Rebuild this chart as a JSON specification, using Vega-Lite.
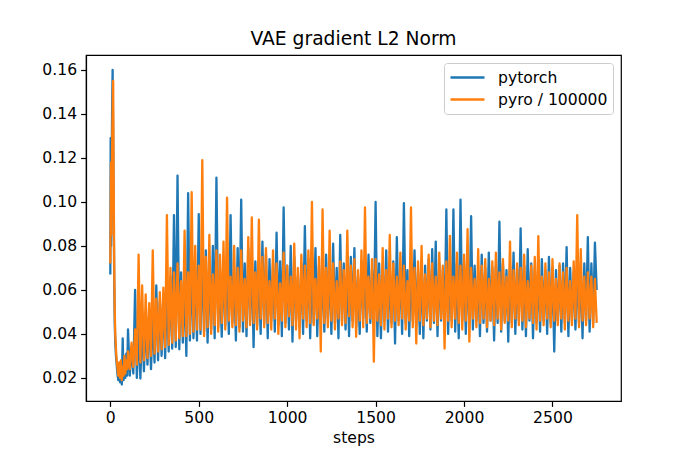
{
  "$schema": "https://vega.github.io/schema/vega-lite/v6.json",
  "description": "VAE gradient L2 Norm, pytorch vs pyro / 100000",
  "title": {"text": "VAE gradient L2 Norm", "fontSize": 18.7, "fontWeight": "normal", "color": "black", "anchor": "middle", "baseline": "alphabetic", "offset": 8, "dy": 17},
  "autosize": {"type": "none"},
  "padding": {"left": 86, "top": 55, "right": 69, "bottom": 57},
  "width": 535,
  "height": 346,
  "data": {
    "values": [
      {"step": 0, "pytorch": 0.067, "pyro": 0.072},
      {"step": 2, "pytorch": 0.129, "pyro": 0.095},
      {"step": 4, "pytorch": 0.080, "pyro": 0.118},
      {"step": 6, "pytorch": 0.100, "pyro": 0.085},
      {"step": 8, "pytorch": 0.122, "pyro": 0.110},
      {"step": 10, "pytorch": 0.140, "pyro": 0.125},
      {"step": 13, "pytorch": 0.160, "pyro": 0.140},
      {"step": 16, "pytorch": 0.130, "pyro": 0.155},
      {"step": 19, "pytorch": 0.095, "pyro": 0.110},
      {"step": 22, "pytorch": 0.065, "pyro": 0.072},
      {"step": 25, "pytorch": 0.045, "pyro": 0.050},
      {"step": 28, "pytorch": 0.036, "pyro": 0.040},
      {"step": 32, "pytorch": 0.030, "pyro": 0.033},
      {"step": 36, "pytorch": 0.026, "pyro": 0.028},
      {"step": 40, "pytorch": 0.022, "pyro": 0.025},
      {"step": 45, "pytorch": 0.019, "pyro": 0.021},
      {"step": 50, "pytorch": 0.025, "pyro": 0.027},
      {"step": 55, "pytorch": 0.018, "pyro": 0.020},
      {"step": 60, "pytorch": 0.024, "pyro": 0.028},
      {"step": 65, "pytorch": 0.017, "pyro": 0.019},
      {"step": 70, "pytorch": 0.038, "pyro": 0.025},
      {"step": 75, "pytorch": 0.019, "pyro": 0.021},
      {"step": 80, "pytorch": 0.026, "pyro": 0.030},
      {"step": 85, "pytorch": 0.020, "pyro": 0.022},
      {"step": 90, "pytorch": 0.031, "pyro": 0.028},
      {"step": 95, "pytorch": 0.021, "pyro": 0.024},
      {"step": 100, "pytorch": 0.042, "pyro": 0.032},
      {"step": 110, "pytorch": 0.021, "pyro": 0.024},
      {"step": 120, "pytorch": 0.034, "pyro": 0.036},
      {"step": 130, "pytorch": 0.022, "pyro": 0.025},
      {"step": 140, "pytorch": 0.060, "pyro": 0.042},
      {"step": 150, "pytorch": 0.020, "pyro": 0.026},
      {"step": 160, "pytorch": 0.044, "pyro": 0.076},
      {"step": 170, "pytorch": 0.0197, "pyro": 0.027},
      {"step": 180, "pytorch": 0.046, "pyro": 0.062},
      {"step": 190, "pytorch": 0.023, "pyro": 0.028},
      {"step": 200, "pytorch": 0.047, "pyro": 0.058},
      {"step": 210, "pytorch": 0.026, "pyro": 0.029},
      {"step": 220, "pytorch": 0.050, "pyro": 0.054},
      {"step": 230, "pytorch": 0.024, "pyro": 0.030},
      {"step": 240, "pytorch": 0.048, "pyro": 0.078},
      {"step": 250, "pytorch": 0.027, "pyro": 0.031},
      {"step": 260, "pytorch": 0.062, "pyro": 0.056},
      {"step": 270, "pytorch": 0.028, "pyro": 0.032},
      {"step": 280, "pytorch": 0.055, "pyro": 0.059},
      {"step": 290, "pytorch": 0.030, "pyro": 0.033},
      {"step": 300, "pytorch": 0.058, "pyro": 0.061},
      {"step": 310, "pytorch": 0.029, "pyro": 0.034},
      {"step": 320, "pytorch": 0.062, "pyro": 0.094},
      {"step": 330, "pytorch": 0.032, "pyro": 0.035},
      {"step": 340, "pytorch": 0.066, "pyro": 0.070},
      {"step": 350, "pytorch": 0.0333, "pyro": 0.036},
      {"step": 360, "pytorch": 0.094, "pyro": 0.068},
      {"step": 370, "pytorch": 0.034, "pyro": 0.037},
      {"step": 380, "pytorch": 0.112, "pyro": 0.072},
      {"step": 390, "pytorch": 0.033, "pyro": 0.038},
      {"step": 400, "pytorch": 0.068, "pyro": 0.064},
      {"step": 410, "pytorch": 0.036, "pyro": 0.039},
      {"step": 420, "pytorch": 0.064, "pyro": 0.087},
      {"step": 430, "pytorch": 0.030, "pyro": 0.039},
      {"step": 440, "pytorch": 0.104, "pyro": 0.068},
      {"step": 450, "pytorch": 0.037, "pyro": 0.040},
      {"step": 460, "pytorch": 0.072, "pyro": 0.1044},
      {"step": 470, "pytorch": 0.038, "pyro": 0.041},
      {"step": 480, "pytorch": 0.070, "pyro": 0.080},
      {"step": 490, "pytorch": 0.037, "pyro": 0.042},
      {"step": 500, "pytorch": 0.0945, "pyro": 0.071},
      {"step": 510, "pytorch": 0.040, "pyro": 0.042},
      {"step": 520, "pytorch": 0.075, "pyro": 0.119},
      {"step": 530, "pytorch": 0.041, "pyro": 0.039},
      {"step": 540, "pytorch": 0.078, "pyro": 0.075},
      {"step": 550, "pytorch": 0.036, "pyro": 0.043},
      {"step": 560, "pytorch": 0.072, "pyro": 0.085},
      {"step": 570, "pytorch": 0.042, "pyro": 0.040},
      {"step": 580, "pytorch": 0.080, "pyro": 0.067},
      {"step": 590, "pytorch": 0.038, "pyro": 0.044},
      {"step": 600, "pytorch": 0.111, "pyro": 0.078},
      {"step": 610, "pytorch": 0.043, "pyro": 0.041},
      {"step": 620, "pytorch": 0.066, "pyro": 0.076},
      {"step": 630, "pytorch": 0.0387, "pyro": 0.045},
      {"step": 640, "pytorch": 0.074, "pyro": 0.082},
      {"step": 650, "pytorch": 0.044, "pyro": 0.042},
      {"step": 660, "pytorch": 0.076, "pyro": 0.102},
      {"step": 670, "pytorch": 0.040, "pyro": 0.046},
      {"step": 680, "pytorch": 0.094, "pyro": 0.066},
      {"step": 690, "pytorch": 0.045, "pyro": 0.043},
      {"step": 700, "pytorch": 0.068, "pyro": 0.080},
      {"step": 710, "pytorch": 0.037, "pyro": 0.044},
      {"step": 720, "pytorch": 0.079, "pyro": 0.070},
      {"step": 730, "pytorch": 0.043, "pyro": 0.041},
      {"step": 740, "pytorch": 0.101, "pyro": 0.078},
      {"step": 750, "pytorch": 0.041, "pyro": 0.046},
      {"step": 760, "pytorch": 0.072, "pyro": 0.065},
      {"step": 770, "pytorch": 0.039, "pyro": 0.043},
      {"step": 780, "pytorch": 0.079, "pyro": 0.084},
      {"step": 790, "pytorch": 0.046, "pyro": 0.044},
      {"step": 800, "pytorch": 0.075, "pyro": 0.093},
      {"step": 810, "pytorch": 0.034, "pyro": 0.045},
      {"step": 820, "pytorch": 0.073, "pyro": 0.068},
      {"step": 830, "pytorch": 0.044, "pyro": 0.042},
      {"step": 840, "pytorch": 0.070, "pyro": 0.092},
      {"step": 850, "pytorch": 0.040, "pyro": 0.047},
      {"step": 860, "pytorch": 0.082, "pyro": 0.075},
      {"step": 870, "pytorch": 0.045, "pyro": 0.043},
      {"step": 880, "pytorch": 0.076, "pyro": 0.079},
      {"step": 890, "pytorch": 0.038, "pyro": 0.045},
      {"step": 900, "pytorch": 0.074, "pyro": 0.064},
      {"step": 910, "pytorch": 0.046, "pyro": 0.042},
      {"step": 920, "pytorch": 0.072, "pyro": 0.078},
      {"step": 930, "pytorch": 0.041, "pyro": 0.047},
      {"step": 940, "pytorch": 0.086, "pyro": 0.072},
      {"step": 950, "pytorch": 0.044, "pyro": 0.040},
      {"step": 960, "pytorch": 0.073, "pyro": 0.063},
      {"step": 970, "pytorch": 0.039, "pyro": 0.046},
      {"step": 980, "pytorch": 0.0975, "pyro": 0.077},
      {"step": 990, "pytorch": 0.045, "pyro": 0.043},
      {"step": 1000, "pytorch": 0.071, "pyro": 0.071},
      {"step": 1010, "pytorch": 0.042, "pyro": 0.048},
      {"step": 1020, "pytorch": 0.080, "pyro": 0.066},
      {"step": 1030, "pytorch": 0.0365, "pyro": 0.044},
      {"step": 1040, "pytorch": 0.075, "pyro": 0.081},
      {"step": 1050, "pytorch": 0.046, "pyro": 0.042},
      {"step": 1060, "pytorch": 0.066, "pyro": 0.070},
      {"step": 1070, "pytorch": 0.043, "pyro": 0.038},
      {"step": 1080, "pytorch": 0.072, "pyro": 0.076},
      {"step": 1090, "pytorch": 0.040, "pyro": 0.047},
      {"step": 1100, "pytorch": 0.089, "pyro": 0.071},
      {"step": 1110, "pytorch": 0.046, "pyro": 0.043},
      {"step": 1120, "pytorch": 0.074, "pyro": 0.078},
      {"step": 1130, "pytorch": 0.038, "pyro": 0.045},
      {"step": 1140, "pytorch": 0.070, "pyro": 0.100},
      {"step": 1150, "pytorch": 0.045, "pyro": 0.044},
      {"step": 1160, "pytorch": 0.079, "pyro": 0.065},
      {"step": 1170, "pytorch": 0.039, "pyro": 0.047},
      {"step": 1180, "pytorch": 0.071, "pyro": 0.075},
      {"step": 1190, "pytorch": 0.046, "pyro": 0.032},
      {"step": 1200, "pytorch": 0.067, "pyro": 0.0966},
      {"step": 1210, "pytorch": 0.041, "pyro": 0.045},
      {"step": 1220, "pytorch": 0.076, "pyro": 0.070},
      {"step": 1230, "pytorch": 0.047, "pyro": 0.043},
      {"step": 1240, "pytorch": 0.069, "pyro": 0.087},
      {"step": 1250, "pytorch": 0.040, "pyro": 0.046},
      {"step": 1260, "pytorch": 0.081, "pyro": 0.072},
      {"step": 1270, "pytorch": 0.045, "pyro": 0.042},
      {"step": 1280, "pytorch": 0.070, "pyro": 0.064},
      {"step": 1290, "pytorch": 0.038, "pyro": 0.047},
      {"step": 1300, "pytorch": 0.085, "pyro": 0.073},
      {"step": 1310, "pytorch": 0.046, "pyro": 0.044},
      {"step": 1320, "pytorch": 0.072, "pyro": 0.069},
      {"step": 1330, "pytorch": 0.042, "pyro": 0.045},
      {"step": 1340, "pytorch": 0.069, "pyro": 0.087},
      {"step": 1350, "pytorch": 0.039, "pyro": 0.048},
      {"step": 1360, "pytorch": 0.075, "pyro": 0.071},
      {"step": 1370, "pytorch": 0.046, "pyro": 0.043},
      {"step": 1380, "pytorch": 0.079, "pyro": 0.074},
      {"step": 1390, "pytorch": 0.043, "pyro": 0.0387},
      {"step": 1400, "pytorch": 0.066, "pyro": 0.069},
      {"step": 1410, "pytorch": 0.040, "pyro": 0.046},
      {"step": 1420, "pytorch": 0.073, "pyro": 0.078},
      {"step": 1430, "pytorch": 0.047, "pyro": 0.043},
      {"step": 1440, "pytorch": 0.070, "pyro": 0.0975},
      {"step": 1450, "pytorch": 0.041, "pyro": 0.045},
      {"step": 1460, "pytorch": 0.076, "pyro": 0.066},
      {"step": 1470, "pytorch": 0.045, "pyro": 0.047},
      {"step": 1480, "pytorch": 0.069, "pyro": 0.074},
      {"step": 1490, "pytorch": 0.044, "pyro": 0.0274},
      {"step": 1500, "pytorch": 0.100, "pyro": 0.074},
      {"step": 1510, "pytorch": 0.039, "pyro": 0.046},
      {"step": 1520, "pytorch": 0.072, "pyro": 0.067},
      {"step": 1530, "pytorch": 0.038, "pyro": 0.044},
      {"step": 1540, "pytorch": 0.070, "pyro": 0.079},
      {"step": 1550, "pytorch": 0.046, "pyro": 0.042},
      {"step": 1560, "pytorch": 0.078, "pyro": 0.069},
      {"step": 1570, "pytorch": 0.041, "pyro": 0.047},
      {"step": 1580, "pytorch": 0.068, "pyro": 0.085},
      {"step": 1590, "pytorch": 0.045, "pyro": 0.043},
      {"step": 1600, "pytorch": 0.073, "pyro": 0.072},
      {"step": 1610, "pytorch": 0.0356, "pyro": 0.046},
      {"step": 1620, "pytorch": 0.084, "pyro": 0.066},
      {"step": 1630, "pytorch": 0.046, "pyro": 0.044},
      {"step": 1640, "pytorch": 0.070, "pyro": 0.077},
      {"step": 1650, "pytorch": 0.040, "pyro": 0.047},
      {"step": 1660, "pytorch": 0.0995, "pyro": 0.071},
      {"step": 1670, "pytorch": 0.045, "pyro": 0.042},
      {"step": 1680, "pytorch": 0.069, "pyro": 0.064},
      {"step": 1690, "pytorch": 0.039, "pyro": 0.046},
      {"step": 1700, "pytorch": 0.072, "pyro": 0.0975},
      {"step": 1710, "pytorch": 0.046, "pyro": 0.043},
      {"step": 1720, "pytorch": 0.078, "pyro": 0.070},
      {"step": 1730, "pytorch": 0.044, "pyro": 0.0356},
      {"step": 1740, "pytorch": 0.068, "pyro": 0.073},
      {"step": 1750, "pytorch": 0.040, "pyro": 0.046},
      {"step": 1760, "pytorch": 0.073, "pyro": 0.080},
      {"step": 1770, "pytorch": 0.038, "pyro": 0.044},
      {"step": 1780, "pytorch": 0.071, "pyro": 0.067},
      {"step": 1790, "pytorch": 0.046, "pyro": 0.047},
      {"step": 1800, "pytorch": 0.074, "pyro": 0.076},
      {"step": 1810, "pytorch": 0.042, "pyro": 0.043},
      {"step": 1820, "pytorch": 0.0785, "pyro": 0.072},
      {"step": 1830, "pytorch": 0.045, "pyro": 0.046},
      {"step": 1840, "pytorch": 0.082, "pyro": 0.066},
      {"step": 1850, "pytorch": 0.039, "pyro": 0.044},
      {"step": 1860, "pytorch": 0.072, "pyro": 0.077},
      {"step": 1870, "pytorch": 0.046, "pyro": 0.047},
      {"step": 1880, "pytorch": 0.069, "pyro": 0.071},
      {"step": 1890, "pytorch": 0.043, "pyro": 0.0333},
      {"step": 1900, "pytorch": 0.0966, "pyro": 0.073},
      {"step": 1910, "pytorch": 0.040, "pyro": 0.046},
      {"step": 1920, "pytorch": 0.073, "pyro": 0.0846},
      {"step": 1930, "pytorch": 0.046, "pyro": 0.043},
      {"step": 1940, "pytorch": 0.0966, "pyro": 0.066},
      {"step": 1950, "pytorch": 0.041, "pyro": 0.047},
      {"step": 1960, "pytorch": 0.072, "pyro": 0.077},
      {"step": 1970, "pytorch": 0.038, "pyro": 0.045},
      {"step": 1980, "pytorch": 0.101, "pyro": 0.071},
      {"step": 1990, "pytorch": 0.046, "pyro": 0.042},
      {"step": 2000, "pytorch": 0.072, "pyro": 0.076},
      {"step": 2010, "pytorch": 0.040, "pyro": 0.046},
      {"step": 2020, "pytorch": 0.070, "pyro": 0.0876},
      {"step": 2030, "pytorch": 0.045, "pyro": 0.0365},
      {"step": 2040, "pytorch": 0.0935, "pyro": 0.070},
      {"step": 2050, "pytorch": 0.042, "pyro": 0.047},
      {"step": 2060, "pytorch": 0.071, "pyro": 0.065},
      {"step": 2070, "pytorch": 0.046, "pyro": 0.043},
      {"step": 2080, "pytorch": 0.068, "pyro": 0.0785},
      {"step": 2090, "pytorch": 0.039, "pyro": 0.045},
      {"step": 2100, "pytorch": 0.076, "pyro": 0.071},
      {"step": 2110, "pytorch": 0.045, "pyro": 0.047},
      {"step": 2120, "pytorch": 0.070, "pyro": 0.074},
      {"step": 2130, "pytorch": 0.041, "pyro": 0.043},
      {"step": 2140, "pytorch": 0.077, "pyro": 0.065},
      {"step": 2150, "pytorch": 0.046, "pyro": 0.046},
      {"step": 2160, "pytorch": 0.070, "pyro": 0.073},
      {"step": 2170, "pytorch": 0.037, "pyro": 0.044},
      {"step": 2180, "pytorch": 0.071, "pyro": 0.077},
      {"step": 2190, "pytorch": 0.045, "pyro": 0.047},
      {"step": 2200, "pytorch": 0.091, "pyro": 0.068},
      {"step": 2210, "pytorch": 0.041, "pyro": 0.042},
      {"step": 2220, "pytorch": 0.072, "pyro": 0.074},
      {"step": 2230, "pytorch": 0.046, "pyro": 0.045},
      {"step": 2240, "pytorch": 0.069, "pyro": 0.066},
      {"step": 2250, "pytorch": 0.0365, "pyro": 0.046},
      {"step": 2260, "pytorch": 0.071, "pyro": 0.082},
      {"step": 2270, "pytorch": 0.045, "pyro": 0.043},
      {"step": 2280, "pytorch": 0.077, "pyro": 0.069},
      {"step": 2290, "pytorch": 0.040, "pyro": 0.047},
      {"step": 2300, "pytorch": 0.070, "pyro": 0.072},
      {"step": 2310, "pytorch": 0.046, "pyro": 0.044},
      {"step": 2320, "pytorch": 0.088, "pyro": 0.070},
      {"step": 2330, "pytorch": 0.042, "pyro": 0.046},
      {"step": 2340, "pytorch": 0.071, "pyro": 0.076},
      {"step": 2350, "pytorch": 0.039, "pyro": 0.043},
      {"step": 2360, "pytorch": 0.0785, "pyro": 0.064},
      {"step": 2370, "pytorch": 0.046, "pyro": 0.047},
      {"step": 2380, "pytorch": 0.072, "pyro": 0.071},
      {"step": 2390, "pytorch": 0.038, "pyro": 0.045},
      {"step": 2400, "pytorch": 0.070, "pyro": 0.075},
      {"step": 2410, "pytorch": 0.045, "pyro": 0.042},
      {"step": 2420, "pytorch": 0.068, "pyro": 0.0845},
      {"step": 2430, "pytorch": 0.041, "pyro": 0.046},
      {"step": 2440, "pytorch": 0.074, "pyro": 0.066},
      {"step": 2450, "pytorch": 0.046, "pyro": 0.044},
      {"step": 2460, "pytorch": 0.069, "pyro": 0.072},
      {"step": 2470, "pytorch": 0.040, "pyro": 0.047},
      {"step": 2480, "pytorch": 0.075, "pyro": 0.068},
      {"step": 2490, "pytorch": 0.045, "pyro": 0.043},
      {"step": 2500, "pytorch": 0.070, "pyro": 0.074},
      {"step": 2510, "pytorch": 0.032, "pyro": 0.046},
      {"step": 2520, "pytorch": 0.069, "pyro": 0.065},
      {"step": 2530, "pytorch": 0.046, "pyro": 0.044},
      {"step": 2540, "pytorch": 0.071, "pyro": 0.072},
      {"step": 2550, "pytorch": 0.041, "pyro": 0.047},
      {"step": 2560, "pytorch": 0.072, "pyro": 0.068},
      {"step": 2570, "pytorch": 0.045, "pyro": 0.042},
      {"step": 2580, "pytorch": 0.0795, "pyro": 0.070},
      {"step": 2590, "pytorch": 0.039, "pyro": 0.046},
      {"step": 2600, "pytorch": 0.070, "pyro": 0.064},
      {"step": 2610, "pytorch": 0.046, "pyro": 0.044},
      {"step": 2620, "pytorch": 0.068, "pyro": 0.073},
      {"step": 2630, "pytorch": 0.042, "pyro": 0.047},
      {"step": 2640, "pytorch": 0.071, "pyro": 0.094},
      {"step": 2650, "pytorch": 0.045, "pyro": 0.043},
      {"step": 2660, "pytorch": 0.069, "pyro": 0.0785},
      {"step": 2670, "pytorch": 0.038, "pyro": 0.046},
      {"step": 2680, "pytorch": 0.072, "pyro": 0.066},
      {"step": 2690, "pytorch": 0.046, "pyro": 0.044},
      {"step": 2700, "pytorch": 0.084, "pyro": 0.068},
      {"step": 2710, "pytorch": 0.041, "pyro": 0.047},
      {"step": 2720, "pytorch": 0.072, "pyro": 0.066},
      {"step": 2730, "pytorch": 0.045, "pyro": 0.043},
      {"step": 2740, "pytorch": 0.0815, "pyro": 0.065},
      {"step": 2750, "pytorch": 0.060, "pyro": 0.045}
    ]
  },
  "encoding": {
    "x": {
      "field": "step",
      "type": "quantitative",
      "title": "steps",
      "scale": {"domain": [-137.5, 2887.5], "nice": false, "zero": false},
      "axis": {"values": [0, 500, 1000, 1500, 2000, 2500], "format": "d"}
    }
  },
  "layer": [
    {
      "mark": {"type": "line", "strokeWidth": 2.3, "strokeJoin": "round"},
      "encoding": {
        "y": {
          "field": "pytorch",
          "type": "quantitative",
          "title": null,
          "scale": {"domain": [0.0095, 0.1668], "nice": false, "zero": false},
          "axis": {"values": [0.02, 0.04, 0.06, 0.08, 0.1, 0.12, 0.14, 0.16], "format": ".2f"}
        },
        "color": {"datum": "pytorch"}
      }
    },
    {
      "mark": {"type": "line", "strokeWidth": 2.3, "strokeJoin": "round"},
      "encoding": {
        "y": {"field": "pyro", "type": "quantitative"},
        "color": {"datum": "pyro / 100000"}
      }
    }
  ],
  "resolve": {"scale": {"color": "shared"}},
  "config": {
    "font": "DejaVu Sans",
    "view": {"stroke": "black", "strokeWidth": 1.2},
    "range": {"category": ["#1f77b4", "#ff7f0e"]},
    "axis": {
      "grid": false,
      "domainColor": "black",
      "domainWidth": 1.2,
      "tickColor": "black",
      "tickWidth": 1.2,
      "tickSize": 5.4,
      "labelFont": "DejaVu Sans",
      "labelFontSize": 15.6,
      "labelColor": "black",
      "labelPadding": 4,
      "titleFont": "DejaVu Sans",
      "titleFontSize": 15.6,
      "titleFontWeight": "normal",
      "titleColor": "black",
      "titlePadding": 4
    },
    "legend": {
      "orient": "top-right",
      "offset": 8,
      "title": null,
      "symbolType": "stroke",
      "symbolStrokeWidth": 2.3,
      "symbolSize": 1156,
      "labelFont": "DejaVu Sans",
      "labelFontSize": 15.6,
      "labelColor": "black",
      "labelOffset": 12,
      "padding": 5,
      "clipHeight": 19,
      "rowPadding": 3,
      "strokeColor": "#cccccc",
      "fillColor": "white",
      "cornerRadius": 3
    }
  }
}
